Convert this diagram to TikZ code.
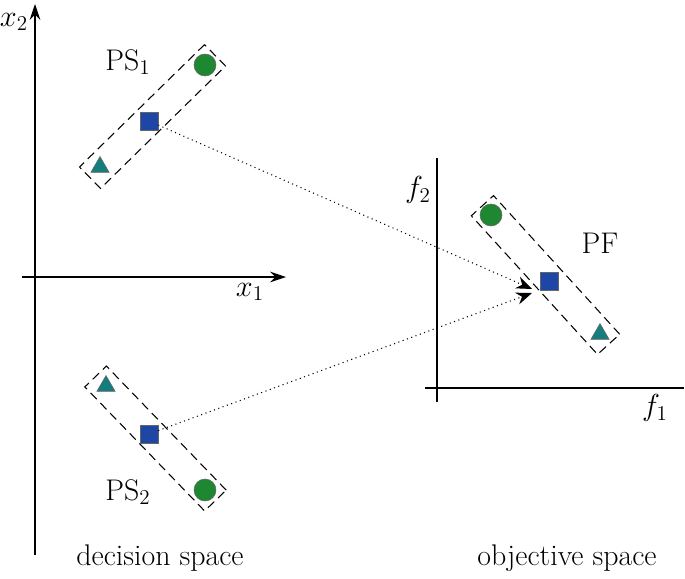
\documentclass[tikz,border=0pt]{standalone}
\usetikzlibrary{arrows.meta,shapes.geometric}
\definecolor{cgreen}{RGB}{30,135,50}
\definecolor{cblue}{RGB}{30,70,165}
\definecolor{cteal}{RGB}{20,125,125}
\begin{document}
\begin{tikzpicture}[x=0.02cm,y=-0.02cm,
 circ/.style={circle,fill=cgreen,draw=black!60,line width=0.3pt,minimum size=0.44cm,inner sep=0},
 sq/.style={rectangle,fill=cblue,draw=black!60,line width=0.3pt,minimum size=0.36cm,inner sep=0},
 tri/.style={regular polygon,regular polygon sides=3,fill=cteal,draw=black!60,line width=0.3pt,minimum size=0.42cm,inner sep=0},
 band/.style={draw,dashed,line width=0.6pt,dash pattern=on 5pt off 3pt,minimum height=0.6cm,inner sep=0},
 ax/.style={line width=0.6pt},
 lab/.style={font=\fontsize{17}{20}\selectfont},
 dotarr/.style={dotted,line width=0.6pt,-{Stealth[length=9pt,width=7pt]}}]
\useasboundingbox (0,0) rectangle (685,578);
% left axes
\draw[ax,-{Stealth[length=9pt,width=6pt]}] (35,555) -- (35,4);
\draw[ax,-{Stealth[length=9pt,width=6pt]}] (22,277) -- (286,277);
\node[lab] (x2) at (14,22) {$x_2$};
\node[lab] (x1) at (250,292) {$x_1$};
% right axes
\draw[ax] (437,402) -- (437,158);
\draw[ax] (425,388) -- (684,388);
\node[lab] (f2) at (418,190) {$f_2$};
\node[lab] (f1) at (655,408) {$f_1$};
% bands
\node[band,minimum width=3.5cm,rotate=44.4] (b1) at (152.5,116.5) {};
\node[band,minimum width=3.45cm,rotate=-46] (b2) at (155.5,438.5) {};
\node[band,minimum width=3.75cm,rotate=-47.7] (b3) at (545.5,275) {};
% markers
\node[circ] (c1) at (205,65) {};
\node[sq] (s1) at (149,121) {};
\node[tri] (t1) at (100,167) {};
\node[tri] (t2) at (106,386) {};
\node[sq] (s2) at (149,434) {};
\node[circ] (c2) at (205,490) {};
\node[circ] (c3) at (491,215) {};
\node[sq] (s3) at (549,281) {};
\node[tri] (t3) at (600,334) {};
% labels
\node[lab] (ps1) at (128,62) {PS$_1$};
\node[lab] (ps2) at (128,492) {PS$_2$};
\node[lab] (pf) at (600,243) {PF};
\node[lab] (ds) at (160,558) {decision space};
\node[lab] (os) at (567,558) {objective space};
% arrows
\coordinate (e1) at (532,289);
\coordinate (e2) at (532,293);
\draw[dotarr] (s1) -- (e1);
\draw[dotarr] (s2) -- (e2);
\end{tikzpicture}
\end{document}
